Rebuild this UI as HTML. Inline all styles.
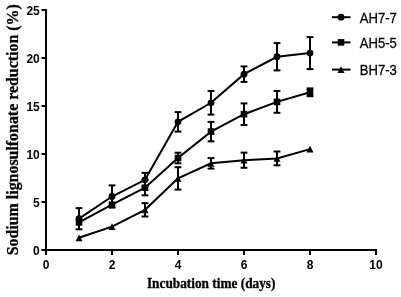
<!DOCTYPE html>
<html><head><meta charset="utf-8"><style>
html,body{margin:0;padding:0;background:#fff;}
svg{display:block;filter:blur(0.3px);}
.tk{font-family:"Liberation Sans",Arial,sans-serif;font-weight:bold;font-size:12px;fill:#000;}
.lg{font-family:"Liberation Sans",Arial,sans-serif;font-size:13.4px;fill:#000;stroke:#000;stroke-width:0.25px;}
.ti{font-family:"Liberation Serif","Times New Roman",serif;font-weight:bold;fill:#000;stroke:#000;stroke-width:0.3px;}
</style></head><body>
<svg width="401" height="297" viewBox="0 0 401 297">
<rect width="401" height="297" fill="#fff"/>
<g stroke="#000" stroke-linecap="butt">
<line x1="46.00" y1="9.00" x2="46.00" y2="251.00" stroke-width="2"/>
<line x1="45.00" y1="250.00" x2="377.00" y2="250.00" stroke-width="2"/>
<line x1="41.50" y1="250.00" x2="46.00" y2="250.00" stroke-width="2"/>
<line x1="41.50" y1="202.00" x2="46.00" y2="202.00" stroke-width="2"/>
<line x1="41.50" y1="154.00" x2="46.00" y2="154.00" stroke-width="2"/>
<line x1="41.50" y1="106.00" x2="46.00" y2="106.00" stroke-width="2"/>
<line x1="41.50" y1="58.00" x2="46.00" y2="58.00" stroke-width="2"/>
<line x1="41.50" y1="10.00" x2="46.00" y2="10.00" stroke-width="2"/>
<line x1="46.00" y1="250.00" x2="46.00" y2="255.00" stroke-width="2"/>
<line x1="112.00" y1="250.00" x2="112.00" y2="255.00" stroke-width="2"/>
<line x1="178.00" y1="250.00" x2="178.00" y2="255.00" stroke-width="2"/>
<line x1="244.00" y1="250.00" x2="244.00" y2="255.00" stroke-width="2"/>
<line x1="310.00" y1="250.00" x2="310.00" y2="255.00" stroke-width="2"/>
<line x1="376.00" y1="250.00" x2="376.00" y2="255.00" stroke-width="2"/>
<line x1="79.00" y1="208.10" x2="79.00" y2="229.30" stroke-width="2"/>
<line x1="75.60" y1="208.10" x2="82.40" y2="208.10" stroke-width="2"/>
<line x1="75.60" y1="229.30" x2="82.40" y2="229.30" stroke-width="2"/>
<line x1="112.00" y1="185.40" x2="112.00" y2="207.60" stroke-width="2"/>
<line x1="108.60" y1="185.40" x2="115.40" y2="185.40" stroke-width="2"/>
<line x1="108.60" y1="207.60" x2="115.40" y2="207.60" stroke-width="2"/>
<line x1="145.00" y1="172.90" x2="145.00" y2="186.70" stroke-width="2"/>
<line x1="141.60" y1="172.90" x2="148.40" y2="172.90" stroke-width="2"/>
<line x1="141.60" y1="186.70" x2="148.40" y2="186.70" stroke-width="2"/>
<line x1="178.00" y1="112.10" x2="178.00" y2="131.60" stroke-width="2"/>
<line x1="174.60" y1="112.10" x2="181.40" y2="112.10" stroke-width="2"/>
<line x1="174.60" y1="131.60" x2="181.40" y2="131.60" stroke-width="2"/>
<line x1="211.00" y1="91.00" x2="211.00" y2="114.60" stroke-width="2"/>
<line x1="207.60" y1="91.00" x2="214.40" y2="91.00" stroke-width="2"/>
<line x1="207.60" y1="114.60" x2="214.40" y2="114.60" stroke-width="2"/>
<line x1="244.00" y1="66.40" x2="244.00" y2="81.90" stroke-width="2"/>
<line x1="240.60" y1="66.40" x2="247.40" y2="66.40" stroke-width="2"/>
<line x1="240.60" y1="81.90" x2="247.40" y2="81.90" stroke-width="2"/>
<line x1="277.00" y1="43.10" x2="277.00" y2="70.40" stroke-width="2"/>
<line x1="273.60" y1="43.10" x2="280.40" y2="43.10" stroke-width="2"/>
<line x1="273.60" y1="70.40" x2="280.40" y2="70.40" stroke-width="2"/>
<line x1="310.00" y1="37.10" x2="310.00" y2="69.10" stroke-width="2"/>
<line x1="306.60" y1="37.10" x2="313.40" y2="37.10" stroke-width="2"/>
<line x1="306.60" y1="69.10" x2="313.40" y2="69.10" stroke-width="2"/>
<polyline points="79.00,218.70 112.00,196.50 145.00,179.80 178.00,121.85 211.00,102.80 244.00,74.15 277.00,56.75 310.00,53.10" fill="none" stroke-width="2"/>
<line x1="145.00" y1="180.10" x2="145.00" y2="195.30" stroke-width="2"/>
<line x1="141.60" y1="180.10" x2="148.40" y2="180.10" stroke-width="2"/>
<line x1="141.60" y1="195.30" x2="148.40" y2="195.30" stroke-width="2"/>
<line x1="178.00" y1="152.70" x2="178.00" y2="163.30" stroke-width="2"/>
<line x1="174.60" y1="152.70" x2="181.40" y2="152.70" stroke-width="2"/>
<line x1="174.60" y1="163.30" x2="181.40" y2="163.30" stroke-width="2"/>
<line x1="211.00" y1="121.90" x2="211.00" y2="141.30" stroke-width="2"/>
<line x1="207.60" y1="121.90" x2="214.40" y2="121.90" stroke-width="2"/>
<line x1="207.60" y1="141.30" x2="214.40" y2="141.30" stroke-width="2"/>
<line x1="244.00" y1="103.40" x2="244.00" y2="125.00" stroke-width="2"/>
<line x1="240.60" y1="103.40" x2="247.40" y2="103.40" stroke-width="2"/>
<line x1="240.60" y1="125.00" x2="247.40" y2="125.00" stroke-width="2"/>
<line x1="277.00" y1="91.00" x2="277.00" y2="112.80" stroke-width="2"/>
<line x1="273.60" y1="91.00" x2="280.40" y2="91.00" stroke-width="2"/>
<line x1="273.60" y1="112.80" x2="280.40" y2="112.80" stroke-width="2"/>
<line x1="310.00" y1="88.40" x2="310.00" y2="96.20" stroke-width="2"/>
<line x1="306.60" y1="88.40" x2="313.40" y2="88.40" stroke-width="2"/>
<line x1="306.60" y1="96.20" x2="313.40" y2="96.20" stroke-width="2"/>
<polyline points="79.00,222.40 112.00,204.70 145.00,187.70 178.00,158.00 211.00,131.60 244.00,114.20 277.00,101.90 310.00,92.30" fill="none" stroke-width="2"/>
<line x1="145.00" y1="203.10" x2="145.00" y2="216.50" stroke-width="2"/>
<line x1="141.60" y1="203.10" x2="148.40" y2="203.10" stroke-width="2"/>
<line x1="141.60" y1="216.50" x2="148.40" y2="216.50" stroke-width="2"/>
<line x1="178.00" y1="167.20" x2="178.00" y2="189.60" stroke-width="2"/>
<line x1="174.60" y1="167.20" x2="181.40" y2="167.20" stroke-width="2"/>
<line x1="174.60" y1="189.60" x2="181.40" y2="189.60" stroke-width="2"/>
<line x1="211.00" y1="158.10" x2="211.00" y2="168.60" stroke-width="2"/>
<line x1="207.60" y1="158.10" x2="214.40" y2="158.10" stroke-width="2"/>
<line x1="207.60" y1="168.60" x2="214.40" y2="168.60" stroke-width="2"/>
<line x1="244.00" y1="152.60" x2="244.00" y2="167.80" stroke-width="2"/>
<line x1="240.60" y1="152.60" x2="247.40" y2="152.60" stroke-width="2"/>
<line x1="240.60" y1="167.80" x2="247.40" y2="167.80" stroke-width="2"/>
<line x1="277.00" y1="151.50" x2="277.00" y2="165.30" stroke-width="2"/>
<line x1="273.60" y1="151.50" x2="280.40" y2="151.50" stroke-width="2"/>
<line x1="273.60" y1="165.30" x2="280.40" y2="165.30" stroke-width="2"/>
<polyline points="79.00,237.80 112.00,226.60 145.00,209.80 178.00,178.40 211.00,163.35 244.00,160.20 277.00,158.40 310.00,149.10" fill="none" stroke-width="2"/>
<circle cx="79.00" cy="218.70" r="3.4" fill="#000" stroke="none"/>
<circle cx="112.00" cy="196.50" r="3.4" fill="#000" stroke="none"/>
<circle cx="145.00" cy="179.80" r="3.4" fill="#000" stroke="none"/>
<circle cx="178.00" cy="121.85" r="3.4" fill="#000" stroke="none"/>
<circle cx="211.00" cy="102.80" r="3.4" fill="#000" stroke="none"/>
<circle cx="244.00" cy="74.15" r="3.4" fill="#000" stroke="none"/>
<circle cx="277.00" cy="56.75" r="3.4" fill="#000" stroke="none"/>
<circle cx="310.00" cy="53.10" r="3.4" fill="#000" stroke="none"/>
<rect x="75.70" y="219.10" width="6.6" height="6.6" fill="#000" stroke="none"/>
<rect x="108.70" y="201.40" width="6.6" height="6.6" fill="#000" stroke="none"/>
<rect x="141.70" y="184.40" width="6.6" height="6.6" fill="#000" stroke="none"/>
<rect x="174.70" y="154.70" width="6.6" height="6.6" fill="#000" stroke="none"/>
<rect x="207.70" y="128.30" width="6.6" height="6.6" fill="#000" stroke="none"/>
<rect x="240.70" y="110.90" width="6.6" height="6.6" fill="#000" stroke="none"/>
<rect x="273.70" y="98.60" width="6.6" height="6.6" fill="#000" stroke="none"/>
<rect x="306.70" y="89.00" width="6.6" height="6.6" fill="#000" stroke="none"/>
<polygon points="79.00,234.40 82.50,241.20 75.50,241.20" fill="#000" stroke="none"/>
<polygon points="112.00,223.20 115.50,230.00 108.50,230.00" fill="#000" stroke="none"/>
<polygon points="145.00,206.40 148.50,213.20 141.50,213.20" fill="#000" stroke="none"/>
<polygon points="178.00,175.00 181.50,181.80 174.50,181.80" fill="#000" stroke="none"/>
<polygon points="211.00,159.95 214.50,166.75 207.50,166.75" fill="#000" stroke="none"/>
<polygon points="244.00,156.80 247.50,163.60 240.50,163.60" fill="#000" stroke="none"/>
<polygon points="277.00,155.00 280.50,161.80 273.50,161.80" fill="#000" stroke="none"/>
<polygon points="310.00,145.70 313.50,152.50 306.50,152.50" fill="#000" stroke="none"/>
<line x1="332.00" y1="17.20" x2="350.50" y2="17.20" stroke-width="2"/>
<circle cx="341.00" cy="17.20" r="3.4" fill="#000" stroke="none"/>
<line x1="332.00" y1="42.40" x2="350.50" y2="42.40" stroke-width="2"/>
<rect x="337.70" y="39.10" width="6.6" height="6.6" fill="#000" stroke="none"/>
<line x1="332.00" y1="69.60" x2="350.50" y2="69.60" stroke-width="2"/>
<polygon points="341.00,66.20 344.50,73.00 337.50,73.00" fill="#000" stroke="none"/>
</g>
<text x="39.8" y="255.00" class="tk" text-anchor="end">0</text>
<text x="39.8" y="207.00" class="tk" text-anchor="end">5</text>
<text x="39.8" y="159.00" class="tk" text-anchor="end">10</text>
<text x="39.8" y="111.00" class="tk" text-anchor="end">15</text>
<text x="39.8" y="63.00" class="tk" text-anchor="end">20</text>
<text x="39.8" y="15.00" class="tk" text-anchor="end">25</text>
<text x="46.00" y="269.2" class="tk" text-anchor="middle">0</text>
<text x="112.00" y="269.2" class="tk" text-anchor="middle">2</text>
<text x="178.00" y="269.2" class="tk" text-anchor="middle">4</text>
<text x="244.00" y="269.2" class="tk" text-anchor="middle">6</text>
<text x="310.00" y="269.2" class="tk" text-anchor="middle">8</text>
<text x="376.00" y="269.2" class="tk" text-anchor="middle">10</text>
<text transform="translate(359.8,22.5) scale(1,1.07)" x="0" y="0" class="lg" textLength="37" lengthAdjust="spacingAndGlyphs">AH7-7</text>
<text transform="translate(359.8,47.7) scale(1,1.07)" x="0" y="0" class="lg" textLength="37" lengthAdjust="spacingAndGlyphs">AH5-5</text>
<text transform="translate(359.8,74.5) scale(1,1.07)" x="0" y="0" class="lg" textLength="37" lengthAdjust="spacingAndGlyphs">BH7-3</text>
<text x="211.2" y="288.2" class="ti" text-anchor="middle" textLength="128.5" lengthAdjust="spacingAndGlyphs" style="font-size:13.8px">Incubation time (days)</text>
<text transform="translate(17.7,129.8) rotate(-90)" x="0" y="0" class="ti" text-anchor="middle" textLength="251" lengthAdjust="spacingAndGlyphs" style="font-size:16px">Sodium lignosulfonate reduction (%)</text>
</svg>
</body></html>
